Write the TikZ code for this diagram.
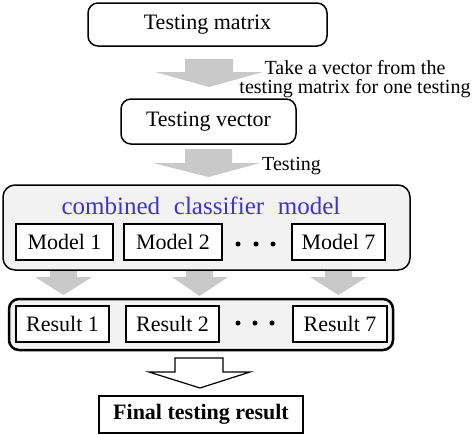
\documentclass[tikz,border=0pt]{standalone}
\usepackage{fontspec}
\setmainfont{Liberation Serif}
\definecolor{arrowgray}{RGB}{201,201,201}
\definecolor{boxgray}{RGB}{242,242,242}
\definecolor{titleblue}{RGB}{58,51,214}
\newcommand\blockarr[7][arrowgray]{%
  % #2 shaft left, #3 shaft right, #4 top, #5 head left, #6 head right, #7 base; tip at \tipy
  \fill[#1] (#2,#4) -- (#3,#4) -- (#3,#7) -- (#6,#7) -- ({(#2+#3)/2},\tipy) -- (#5,#7) -- (#2,#7) -- cycle;}
\begin{document}
\begin{tikzpicture}[x=1pt,y=-1pt,
  roundbox/.style={draw,line width=1.5pt,rounded corners=10pt,inner sep=0pt,font=\fontsize{22}{24}\selectfont},
  sqbox/.style={draw,line width=1.5pt,fill=white,inner sep=0pt,minimum height=36pt,font=\fontsize{22}{24}\selectfont},
  lbl/.style={inner sep=0pt,font=\fontsize{20}{19.5}\selectfont},
  dotmark/.style={circle,fill=black,inner sep=0pt,minimum size=5pt}]
\useasboundingbox (0,0) rectangle (474,434);
% gray block arrows
\def\tipy{87}\blockarr{185}{233}{59}{155}{263}{72}
\def\tipy{177}\blockarr{185}{232}{149}{153}{260}{163}
\def\tipy{295}\blockarr{50}{77}{268}{35}{92}{277}
\def\tipy{296}\blockarr{186}{213}{268}{172}{228}{277}
\def\tipy{295}\blockarr{325}{352}{268}{310}{367}{277}
% boxes
\node[roundbox,minimum width=239pt,minimum height=43pt] (matrix) at (207.5,24.5) {Testing matrix};
\node[roundbox,minimum width=175pt,minimum height=45pt] (vector) at (208.5,121.5) {Testing vector};
\node[lbl,align=center] (takelbl) at (355,79) {Take a vector from the\\testing matrix for one testing};
\node[lbl,anchor=base west] (testlbl) at (262,170) {Testing};
\node[draw,line width=1.5pt,rounded corners=12pt,fill=boxgray,minimum width=407pt,minimum height=85pt,inner sep=0pt] (combined) at (206.5,227.5) {};
\node[inner sep=0pt,anchor=base,text=titleblue,font=\fontsize{25}{27}\selectfont] (title) at (201,214) {combined\hspace{0.3em} classifier\hspace{0.3em} model};
\node[sqbox,minimum width=97pt] (m1) at (64.5,242) {Model 1};
\node[sqbox,minimum width=98pt] (m2) at (173,242) {Model 2};
\node[sqbox,minimum width=93pt] (m7) at (338.5,242) {Model 7};
\node[dotmark] (md1) at (238,244) {};
\node[dotmark] (md2) at (256,244) {};
\node[dotmark] (md3) at (273,244) {};
\node[draw,line width=2.5pt,rounded corners=10pt,fill=boxgray,minimum width=384pt,minimum height=51pt,inner sep=0pt] (results) at (201,324.5) {};
\node[sqbox,minimum width=93pt] (r1) at (62.5,324) {Result 1};
\node[sqbox,minimum width=93pt] (r2) at (172.5,324) {Result 2};
\node[sqbox,minimum width=94pt] (r7) at (340,324) {Result 7};
\node[dotmark] (rd1) at (238,323) {};
\node[dotmark] (rd2) at (255,323) {};
\node[dotmark] (rd3) at (272,323) {};
% white outlined arrow
\draw[line width=1.2pt,fill=white,line join=miter] (175,358) -- (223,358) -- (223,372) -- (250,372) -- (200,388) -- (149,372) -- (175,372) -- cycle;
\node[draw,line width=1.5pt,minimum width=204pt,minimum height=37pt,inner sep=0pt,font=\bfseries\fontsize{22}{24}\selectfont] (final) at (201,414.5) {Final testing result};
\end{tikzpicture}
\end{document}
